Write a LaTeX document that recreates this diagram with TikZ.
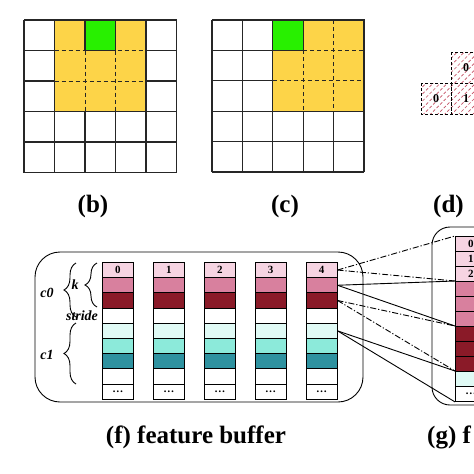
\documentclass[tikz,border=0pt]{standalone}
\usepackage{fontspec}
\setmainfont{Liberation Serif}
\usetikzlibrary{decorations.pathreplacing,patterns.meta}

\definecolor{gridyellow}{RGB}{253,212,72}
\definecolor{gridgreen}{RGB}{40,240,0}
\definecolor{pinklight}{RGB}{246,212,226}
\definecolor{pinkmid}{RGB}{216,128,158}
\definecolor{darkred}{RGB}{138,26,40}
\definecolor{cyanlight}{RGB}{224,250,245}
\definecolor{aqua}{RGB}{140,234,218}
\definecolor{tealdark}{RGB}{46,146,160}
\definecolor{hatchred}{RGB}{196,80,100}

\begin{document}
\begin{tikzpicture}[x=1pt,y=-1pt,
  gridline/.style={line width=1.1pt, black!85},
  dashline/.style={line width=1pt, black!85, dash pattern=on 4pt off 3pt},
  lbl/.style={font=\bfseries\fontsize{25}{25}\selectfont, anchor=base, inner sep=0pt},
  cell/.style={draw, line width=0.9pt, minimum width=31pt, minimum height=15.2pt,
    inner sep=0pt, anchor=north west, font=\bfseries\fontsize{11}{11}\selectfont},
  note/.style={font=\bfseries\itshape\fontsize{14}{14}\selectfont, inner sep=0pt},
  curly/.style={decorate, decoration={brace,amplitude=12pt}, line width=0.9pt},
  link/.style={line width=0.9pt},
  dashdot/.style={line width=0.9pt, dash pattern=on 6pt off 2pt on 1.2pt off 2pt}]
  \clip (0,0) rectangle (474,474);

  % (b) window in the middle
  \begin{scope}[shift={(24,20)}, x=30.5pt, y=-30.5pt]
    \foreach \i in {0,...,5} {
      \draw[gridline] (\i,0) -- (\i,5);
      \draw[gridline] (0,\i) -- (5,\i);
    }
    \fill[gridyellow] (1,0) rectangle (4,3);
    \draw[dashline] (1,1) -- (4,1) (1,2) -- (4,2) (2,1) -- (2,3) (3,1) -- (3,3);
    \fill[gridgreen] (2,0) rectangle (3,1);
    \draw[gridline] (1,0) rectangle (4,3) (2,0) rectangle (3,1);
  \end{scope}
  \node[lbl] (labb) at (93,212) {(b)};

  % (c) window on the right
  \begin{scope}[shift={(212,20)}, x=30.4pt, y=-30.4pt]
    \foreach \i in {0,...,5} {
      \draw[gridline] (\i,0) -- (\i,5);
      \draw[gridline] (0,\i) -- (5,\i);
    }
    \fill[gridyellow] (2,0) rectangle (5,3);
    \draw[dashline] (3,1) -- (5,1) (2,2) -- (5,2) (3,1) -- (3,3) (4,0) -- (4,3);
    \fill[gridgreen] (2,0) rectangle (3,1);
    \draw[gridline] (2,0) rectangle (5,3) (2,0) rectangle (3,1);
  \end{scope}
  \node[lbl] (labc) at (285,212) {(c)};

  % (d) hatched cells
  \begin{scope}[shift={(421,52)}, x=30pt, y=-31pt]
    \draw[line width=0.9pt, dash pattern=on 3pt off 2pt,
      pattern={Lines[angle=45,distance=5pt,line width=0.7pt]}, pattern color=hatchred]
      (0,1) rectangle (1,2) (1,0) rectangle (2,1) (1,1) rectangle (2,2);
    \node[font=\bfseries\fontsize{12}{12}\selectfont] (d0) at (0.5,1.5) {0};
    \node[font=\bfseries\fontsize{12}{12}\selectfont] (d1) at (1.5,0.5) {0};
    \node[font=\bfseries\fontsize{12}{12}\selectfont] (d2) at (1.5,1.5) {1};
  \end{scope}
  \node[lbl, anchor=base west] (labd) at (433,212) {(d)};

  % (f) feature buffer
  \draw[rounded corners=25pt, line width=0.9pt] (35,252) rectangle (363,402);
  \foreach \c in {0,...,4} {
    \foreach \r/\col/\txt in {0/pinklight/\c, 1/pinkmid/, 2/darkred/, 3/white/,
        4/cyanlight/, 5/aqua/, 6/tealdark/, 7/white/, 8/white/\dots} {
      \node[cell, fill=\col] (f\c-\r) at ({102+50.9*\c},{262+15.2*\r}) {\txt};
    }
  }
  \draw[curly] (97,307) -- (97,263);
  \draw[curly] (76,317) -- (76,263);
  \draw[curly] (76,384) -- (76,323);
  \node[note] (kk) at (75,285) {k};
  \node[note] (cz) at (47,293) {c0};
  \node[note] (str) at (82,316) {stride};
  \node[note] (co) at (47,355) {c1};
  \node[lbl] (labf) at (196,443) {(f) feature buffer};

  % (g) column on the right
  \draw[rounded corners=18pt, line width=0.9pt] (432,227) rectangle (520,405);
  \foreach \r/\col/\txt in {0/pinklight/0, 1/pinklight/1, 2/pinklight/2, 3/pinkmid/,
      4/pinkmid/, 5/pinkmid/, 6/darkred/, 7/darkred/, 8/darkred/, 9/cyanlight/,
      10/white/\dots} {
    \node[cell, fill=\col, minimum height=15pt] (g\r) at (455,{236+15*\r}) {\txt};
  }
  \node[lbl, anchor=base west] (labg) at (427,443) {(g) f};

  % mapping lines
  \draw[dashdot] (f4-0.east) -- (g0.north west);
  \draw[dashdot] (f4-0.east) -- (g3.north west);
  \draw[link] (f4-1.east) -- (g3.north west);
  \draw[link] (f4-1.east) -- (g6.north west);
  \draw[dashdot] (f4-2.east) -- (g6.north west);
  \draw[dashdot] (f4-2.east) -- (g9.north west);
  \draw[link] (f4-4.east) -- (g9.north west);
  \draw[link] (f4-4.east) -- (g10.south west);
\end{tikzpicture}
\end{document}
